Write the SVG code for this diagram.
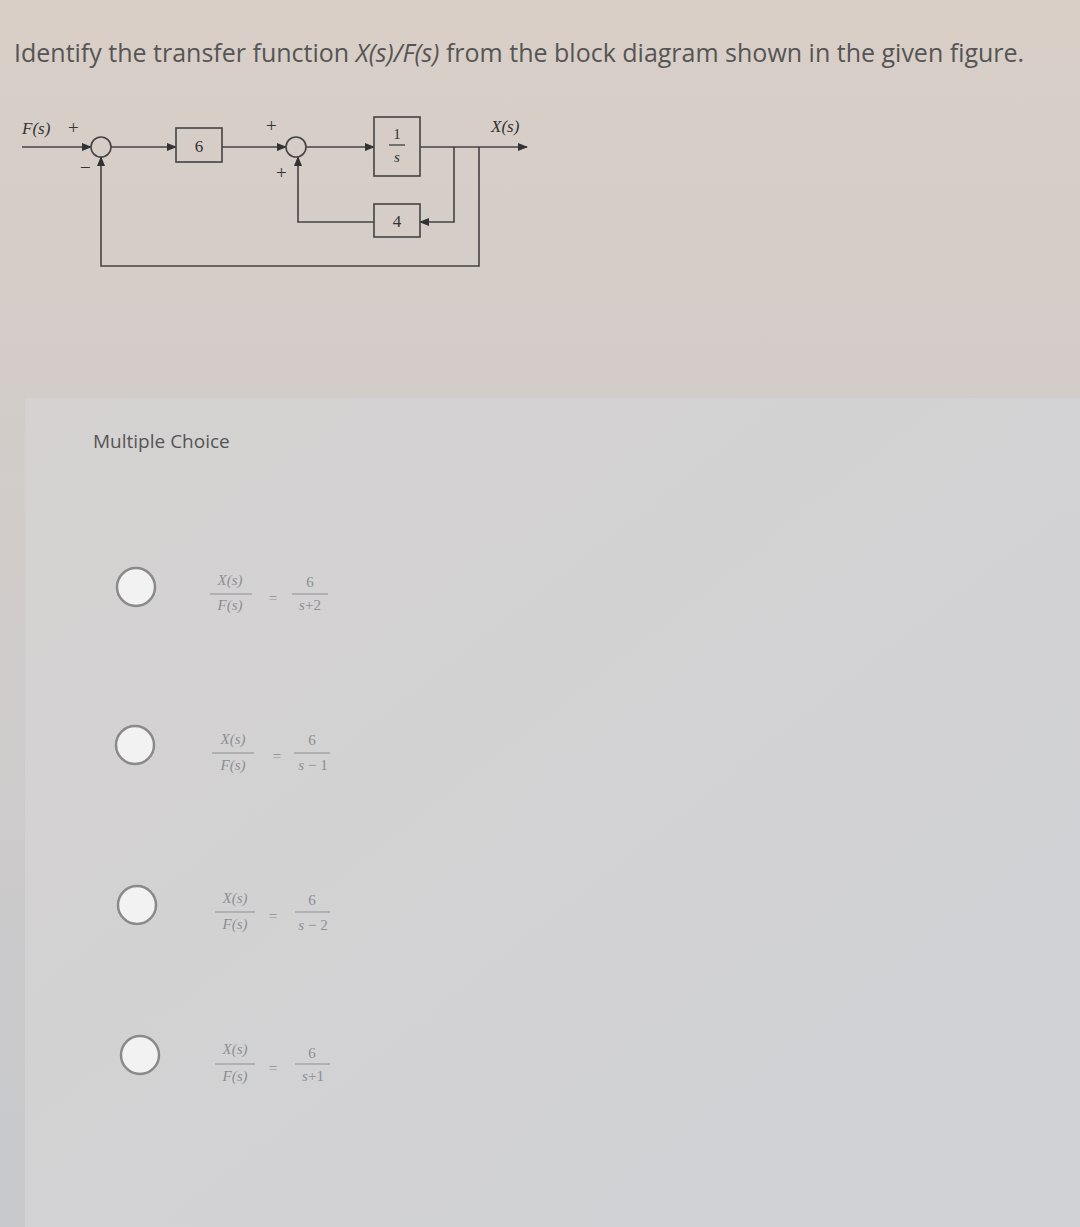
<svg xmlns="http://www.w3.org/2000/svg" width="1080" height="1227" viewBox="0 0 1080 1227">
<defs>
<linearGradient id="bg" x1="0" y1="0" x2="0" y2="1">
<stop offset="0" stop-color="#d9cfc7"/><stop offset="0.35" stop-color="#d2ccc9"/><stop offset="1" stop-color="#c7c9cd"/>
</linearGradient>
<linearGradient id="panel" x1="0" y1="0" x2="1" y2="1">
<stop offset="0" stop-color="#d5d2d1"/><stop offset="1" stop-color="#d0d2d6"/>
</linearGradient>
<marker id="ar" markerWidth="10" markerHeight="8" refX="9" refY="4" orient="auto" markerUnits="userSpaceOnUse">
<path d="M0,0 L10,4 L0,8 z" fill="#333"/>
</marker>
</defs>
<style>
.ln{fill:none;stroke:#444;stroke-width:1.6}
.bx{fill:#d6cdc6;stroke:#444;stroke-width:1.6}
.m{font-family:"Liberation Serif",serif;fill:#333}
.t{font-family:"Open Sans","Liberation Sans",sans-serif}
.rd{fill:#f2f2f2;stroke:#8a8a8a;stroke-width:2.5}
.ch{font-family:"Liberation Serif",serif;fill:#8c8f94;font-size:15px}
</style>
<rect width="1080" height="1227" fill="url(#bg)"/>
<rect x="25" y="398" width="1055" height="829" fill="url(#panel)"/>
<text x="14" y="62" class="t" font-size="25" fill="#555">Identify the transfer function <tspan font-style="italic">X(s)/F(s)</tspan> from the block diagram shown in the given figure.</text>
<g id="connectors">
<line class="ln" x1="22" y1="147" x2="91" y2="147" marker-end="url(#ar)"/>
<line class="ln" x1="111" y1="147" x2="176" y2="147" marker-end="url(#ar)"/>
<line class="ln" x1="222" y1="147" x2="286" y2="147" marker-end="url(#ar)"/>
<line class="ln" x1="306" y1="147" x2="374" y2="147" marker-end="url(#ar)"/>
<line class="ln" x1="420" y1="147" x2="527" y2="147" marker-end="url(#ar)"/>
<polyline class="ln" points="454,147 454,222 420,222" marker-end="url(#ar)"/>
<polyline class="ln" points="374,222 298,222 298,157" marker-end="url(#ar)"/>
<polyline class="ln" points="479,147 479,266 101,266 101,157" marker-end="url(#ar)"/>
</g>
<g id="sum1"><circle cx="101" cy="147" r="10" class="bx"/>
<text x="68" y="134" class="m" font-size="19">+</text><text x="80" y="174" class="m" font-size="19">−</text></g>
<g id="sum2"><circle cx="296" cy="147" r="10" class="bx"/>
<text x="266" y="132" class="m" font-size="19">+</text><text x="276" y="179" class="m" font-size="19">+</text></g>
<g id="gain6"><rect x="176" y="128" width="46" height="34" class="bx"/><text x="199" y="152" class="m" font-size="17" text-anchor="middle">6</text></g>
<g id="integrator"><rect x="374" y="117" width="46" height="59" class="bx"/>
<text x="397" y="139" class="m" font-size="15" text-anchor="middle">1</text>
<line x1="389" y1="145" x2="405" y2="145" stroke="#333" stroke-width="1.2"/>
<text x="397" y="162" class="m" font-size="15" font-style="italic" text-anchor="middle">s</text></g>
<g id="gain4"><rect x="374" y="204" width="46" height="33" class="bx"/><text x="397" y="227" class="m" font-size="17" text-anchor="middle">4</text></g>
<text x="22" y="134" class="m" font-size="17" font-style="italic" fill="#555">F(s)</text>
<text x="491" y="132" class="m" font-size="17" font-style="italic">X(s)</text>
<text x="93" y="448" class="t" font-size="19" fill="#555">Multiple Choice</text>
<g id="opt1"><circle cx="136" cy="587" r="19" class="rd"/>
<text x="230" y="585" class="ch" text-anchor="middle" font-style="italic">X(s)</text><line x1="210" y1="594" x2="252" y2="594" stroke="#8c8f94"/><text x="230" y="610" class="ch" text-anchor="middle" font-style="italic">F(s)</text>
<text x="273" y="603" class="ch" text-anchor="middle">=</text>
<text x="310" y="587" class="ch" text-anchor="middle">6</text><line x1="292" y1="594" x2="328" y2="594" stroke="#8c8f94"/><text x="310" y="610" class="ch" text-anchor="middle"><tspan font-style="italic">s</tspan>+2</text></g>
<g id="opt2"><circle cx="135" cy="745" r="19" class="rd"/>
<text x="233" y="744" class="ch" text-anchor="middle" font-style="italic">X(s)</text><line x1="212" y1="753" x2="254" y2="753" stroke="#8c8f94"/><text x="233" y="770" class="ch" text-anchor="middle" font-style="italic">F(s)</text>
<text x="277" y="761" class="ch" text-anchor="middle">=</text>
<text x="312" y="745" class="ch" text-anchor="middle">6</text><line x1="294" y1="753" x2="330" y2="753" stroke="#8c8f94"/><text x="313" y="770" class="ch" text-anchor="middle"><tspan font-style="italic">s</tspan> − 1</text></g>
<g id="opt3"><circle cx="137" cy="905" r="19" class="rd"/>
<text x="235" y="903" class="ch" text-anchor="middle" font-style="italic">X(s)</text><line x1="215" y1="912" x2="255" y2="912" stroke="#8c8f94"/><text x="235" y="929" class="ch" text-anchor="middle" font-style="italic">F(s)</text>
<text x="273" y="921" class="ch" text-anchor="middle">=</text>
<text x="312" y="905" class="ch" text-anchor="middle">6</text><line x1="295" y1="912" x2="330" y2="912" stroke="#8c8f94"/><text x="313" y="930" class="ch" text-anchor="middle"><tspan font-style="italic">s</tspan> − 2</text></g>
<g id="opt4"><circle cx="140" cy="1055" r="19" class="rd"/>
<text x="235" y="1054" class="ch" text-anchor="middle" font-style="italic">X(s)</text><line x1="215" y1="1064" x2="255" y2="1064" stroke="#8c8f94"/><text x="235" y="1081" class="ch" text-anchor="middle" font-style="italic">F(s)</text>
<text x="273" y="1073" class="ch" text-anchor="middle">=</text>
<text x="312" y="1058" class="ch" text-anchor="middle">6</text><line x1="295" y1="1064" x2="330" y2="1064" stroke="#8c8f94"/><text x="313" y="1081" class="ch" text-anchor="middle"><tspan font-style="italic">s</tspan>+1</text></g>
</svg>
